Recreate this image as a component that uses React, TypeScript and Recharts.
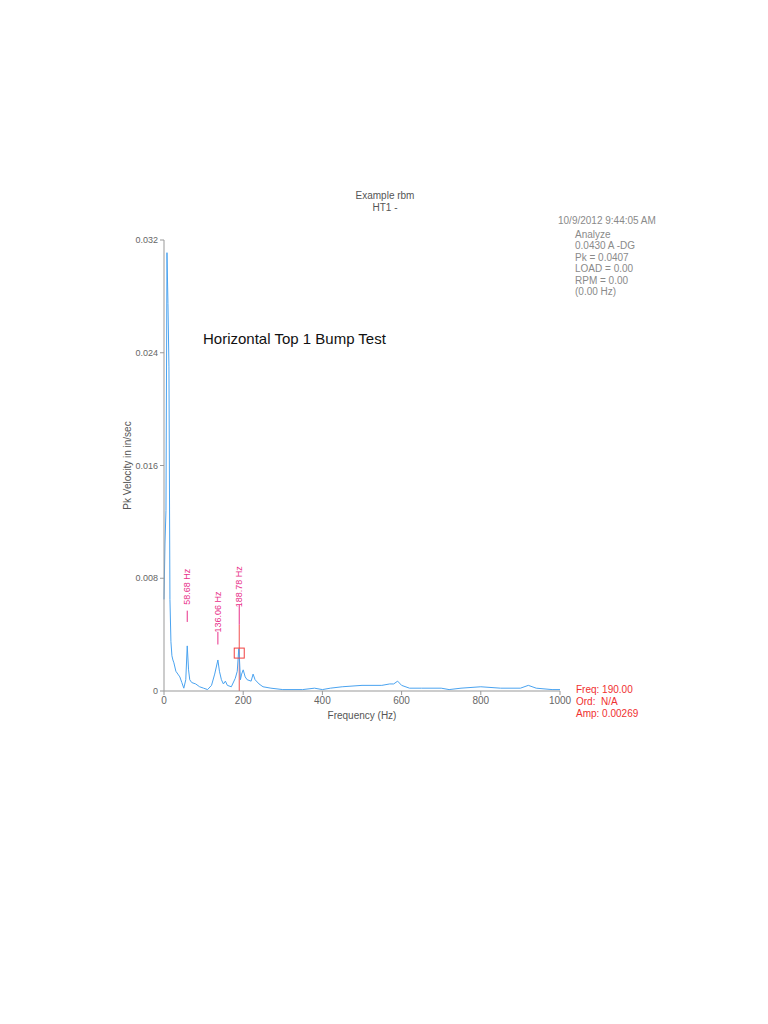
import React from "react"
import {
  LineChart,
  Line,
  XAxis,
  YAxis,
  ReferenceLine,
  ReferenceDot,
  Label,
} from "recharts"

// Spectrum (Hz, in/sec peak)
const freqs = [
  0, 2.5, 5, 7.5, 10, 12.5, 15, 17.5, 20, 22.5, 25, 30, 35, 40, 45, 50, 55, 58.68, 62, 65,
  70, 80, 90, 100, 110, 120, 128, 136.06, 140, 145, 150, 155, 160, 170, 180, 185, 188.78,
  190, 193, 196, 200, 205, 210, 220, 225, 230, 240, 250, 270, 300, 350, 380, 400, 420,
  450, 500, 550, 570, 580, 590, 600, 620, 650, 700, 720, 750, 800, 850, 900, 920, 940,
  980, 1000,
]
const amps = [
  0.0065, 0.0105, 0.0128, 0.0311, 0.0275, 0.023, 0.0065, 0.0035, 0.0025, 0.0022, 0.002,
  0.0014, 0.0012, 0.001, 0.0006, 0.0002, 0.0008, 0.0032, 0.0015, 0.0008, 0.0006, 0.0005,
  0.0003, 0.0002, 0.0001, 0.0004, 0.0012, 0.0022, 0.0014, 0.0008, 0.0005, 0.0007, 0.0004,
  0.0003, 0.0009, 0.0014, 0.003, 0.0026, 0.0008, 0.0012, 0.0015, 0.001, 0.0008, 0.0007,
  0.0012, 0.0008, 0.0005, 0.0003, 0.0002, 0.0001, 0.0001, 0.0002, 0.0001, 0.0002, 0.0003,
  0.0004, 0.0004, 0.0005, 0.0005, 0.0007, 0.0004, 0.0002, 0.0002, 0.0002, 0.0001, 0.0002,
  0.0003, 0.0002, 0.0002, 0.0004, 0.0002, 0.0001, 0.0001,
]

const xTicks = [0, 200, 400, 600, 800, 1000]
const yTicks = [0, 0.008, 0.016, 0.024, 0.032]

const peakFreqs = [58.68, 136.06]
const peakLabels = ["58.68 Hz", "136.06 Hz"]
const peakTickLow = [0.0049, 0.0033]
const peakTickHigh = [0.0057, 0.0042]
const peakTextY = [0.0074, 0.0056]

const cursorFreq = 190
const cursorAmp = 0.00269
const cursorPeak = 188.78

const infoLines = ["Analyze", "0.0430 A -DG", "Pk = 0.0407", "LOAD = 0.00", "RPM = 0.00", "(0.00 Hz)"]
const cursorLines = ["Freq: 190.00", "Ord:  N/A", "Amp: 0.00269"]

const data = freqs.map((f, i) => ({ f, a: amps[i] }))

const font = "'Liberation Sans', Arial, sans-serif"
const grey = "#8a8a8a"
const pink = "#e8308a"

const rotatedText = (text: string, color: string) => (props: any) => {
  const { viewBox } = props
  const x = viewBox.x
  const y = viewBox.y
  return (
    <text
      x={x + 3}
      y={y}
      transform={`rotate(-90 ${x + 3} ${y})`}
      textAnchor="middle"
      fill={color}
      fontSize={9}
      fontFamily={font}
    >
      {text}
    </text>
  )
}

const Square = (props: any) => (
  <rect x={props.cx - 5} y={props.cy - 5} width={10} height={10} fill="none" stroke="#f04040" strokeWidth={1} />
)

export default function App() {
  return (
    <div style={{ position: "absolute", left: 0, top: 0, width: 768, height: 1024, background: "#fff", fontFamily: font }}>
      <div style={{ position: "absolute", left: 0, width: 770, top: 190, textAlign: "center", fontSize: 10, color: "#555" }}>
        Example rbm
      </div>
      <div style={{ position: "absolute", left: 0, width: 770, top: 202, textAlign: "center", fontSize: 10, color: "#555" }}>
        HT1 -
      </div>
      <div style={{ position: "absolute", left: 558, top: 215, fontSize: 10, color: grey }}>10/9/2012 9:44:05 AM</div>
      {infoLines.map((t, i) => (
        <div key={t} style={{ position: "absolute", left: 575, top: 229 + i * 11.4, fontSize: 10, color: grey }}>
          {t}
        </div>
      ))}
      <div style={{ position: "absolute", left: 203, top: 330, fontSize: 15, color: "#111" }}>Horizontal Top 1 Bump Test</div>
      {cursorLines.map((t, i) => (
        <div key={t} style={{ position: "absolute", left: 576, top: 684 + i * 12, fontSize: 10, color: "#f03030", whiteSpace: "pre" }}>
          {t}
        </div>
      ))}
      <LineChart
        width={768}
        height={1024}
        data={data}
        margin={{ top: 240, right: 208, bottom: 303, left: 114 }}
        style={{ position: "absolute", left: 0, top: 0 }}
      >
        <XAxis
          dataKey="f"
          type="number"
          domain={[0, 1000]}
          ticks={xTicks}
          stroke="#999"
          tickSize={4}
          tick={{ fill: "#666", fontSize: 10, fontFamily: font }}
          height={30}
        >
          <Label value="Frequency (Hz)" position="insideBottom" offset={2} fill="#555" fontSize={10} fontFamily={font} />
        </XAxis>
        <YAxis
          type="number"
          domain={[0, 0.032]}
          ticks={yTicks}
          stroke="#999"
          tickSize={4}
          tick={{ fill: "#666", fontSize: 9, fontFamily: font }}
          width={50}
          orientation="left"
        >
          <Label
            value="Pk Velocity in in/sec"
            angle={-90}
            position="insideLeft"
            offset={13}
            fill="#555"
            fontSize={10}
            fontFamily={font}
            style={{ textAnchor: "middle" }}
          />
        </YAxis>
        {peakFreqs.map((p, i) => (
          <ReferenceLine
            key={"tick" + p}
            segment={[
              { x: p, y: peakTickLow[i] },
              { x: p, y: peakTickHigh[i] },
            ]}
            stroke={pink}
          />
        ))}
        {peakFreqs.map((p, i) => (
          <ReferenceDot key={"lbl" + p} x={p} y={peakTextY[i]} r={0} fill="none" stroke="none">
            <Label content={rotatedText(peakLabels[i], pink)} />
          </ReferenceDot>
        ))}
        <ReferenceLine
          segment={[
            { x: cursorFreq, y: 0 },
            { x: cursorFreq, y: 0.0047 },
          ]}
          stroke="#f05050"
        />
        <ReferenceLine
          segment={[
            { x: cursorFreq, y: 0.0047 },
            { x: cursorFreq, y: 0.0061 },
          ]}
          stroke={pink}
        />
        <ReferenceDot x={cursorFreq} y={0.0074} r={0} fill="none" stroke="none">
          <Label content={rotatedText(cursorPeak.toFixed(2) + " Hz", pink)} />
        </ReferenceDot>
        <Line
          type="linear"
          dataKey="a"
          stroke="#4aa3f0"
          strokeWidth={1}
          dot={false}
          isAnimationActive={false}
        />
        <ReferenceDot x={cursorFreq} y={cursorAmp} shape={Square} />
      </LineChart>
    </div>
  )
}
